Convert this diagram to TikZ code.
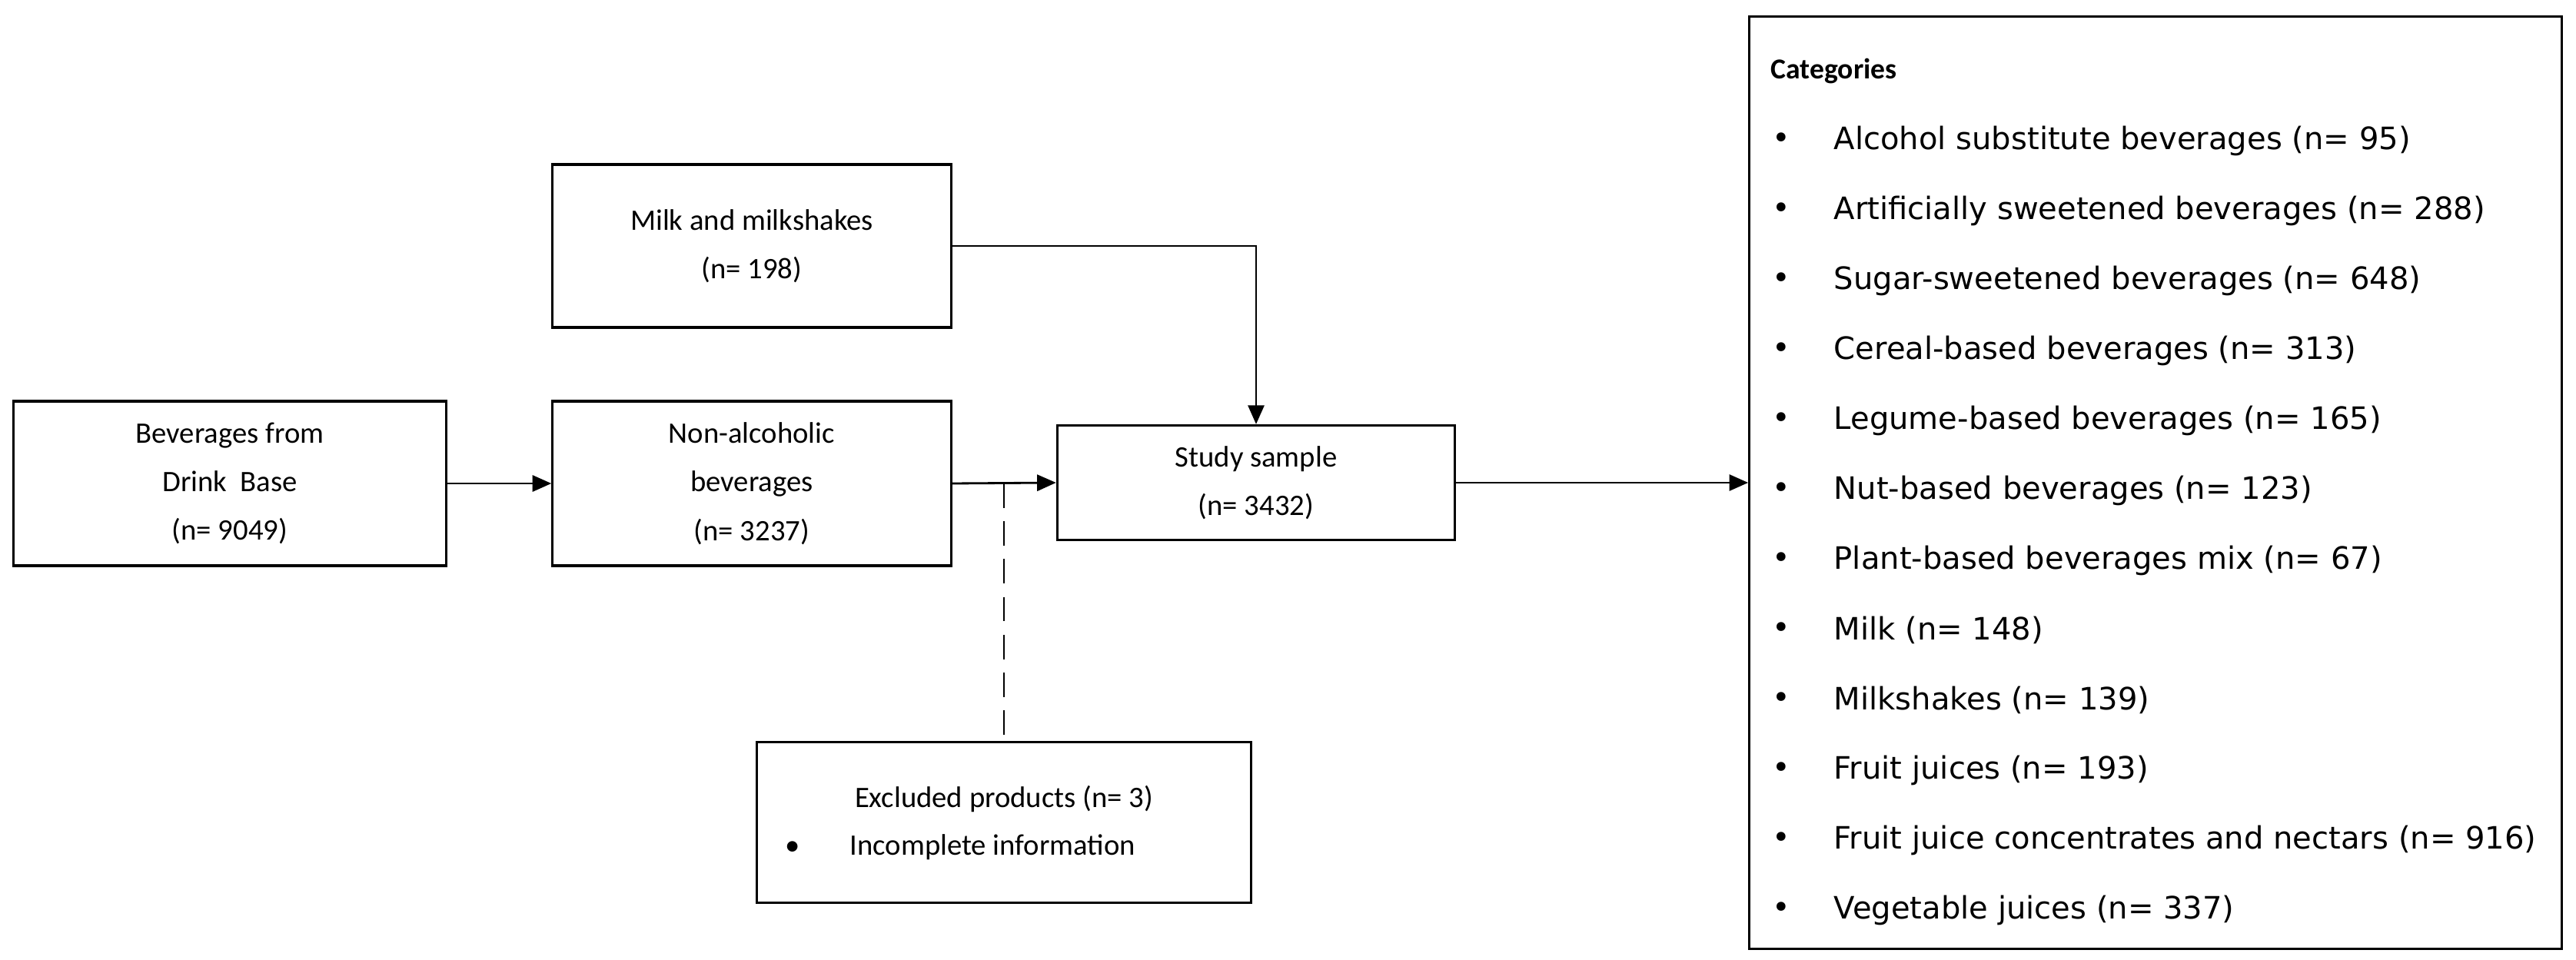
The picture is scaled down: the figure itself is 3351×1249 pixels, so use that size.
\documentclass[tikz,border=0pt]{standalone}
\usepackage{fontspec}
\setmainfont{Carlito}
\newfontfamily\listfont{DejaVu Sans}
\usetikzlibrary{arrows.meta}
\begin{document}
\begin{tikzpicture}[x=0.01cm,y=-0.01cm,
  box/.style={draw,line width=0.9pt,align=center,inner sep=0pt,font=\fontsize{11}{18}\selectfont},
  arr/.style={line width=0.8pt,-{Triangle[length=7pt,width=6pt]}},
  itm/.style={anchor=west,inner sep=0pt,font=\listfont\fontsize{11.4}{13}\selectfont}]
\useasboundingbox (0,0) rectangle (3351,1249);
\node[box,minimum width=5.62cm,minimum height=2.14cm] (bev) at (299,629) {Beverages from\\Drink\ \ Base\\(n= 9049)};
\node[box,minimum width=5.18cm,minimum height=2.14cm] (non) at (978,629) {Non-alcoholic\\beverages\\(n= 3237)};
\node[box,minimum width=5.18cm,minimum height=2.12cm] (milk) at (978,320) {Milk and milkshakes\\(n= 198)};
\node[box,minimum width=5.17cm,minimum height=1.49cm] (study) at (1634,628) {Study sample\\(n= 3432)};
\node[draw,line width=0.9pt,minimum width=6.43cm,minimum height=2.09cm] (exc) at (1306,1070) {};
\node[anchor=base,font=\fontsize{11}{18}\selectfont] (exct) at (1306,1050) {Excluded products (n= 3)};
\node[anchor=base,font=\fontsize{11}{18}\selectfont] (excb) at (1031,1112) {•};
\node[anchor=base west,inner sep=0pt,font=\fontsize{11}{18}\selectfont] (exci) at (1105,1112) {Incomplete information};
\node[draw,line width=0.9pt,minimum width=10.56cm,minimum height=12.12cm] (cat) at (2804,628) {};
\node[anchor=west,inner sep=0pt,font=\bfseries\fontsize{10.7}{12}\selectfont] (ctitle) at (2303,92) {Categories};
\foreach \t [count=\i] in {Alcohol substitute beverages (n= 95),Artificially sweetened beverages (n= 288),Sugar-sweetened beverages (n= 648),Cereal-based beverages (n= 313),Legume-based beverages (n= 165),Nut-based beverages (n= 123),Plant-based beverages mix (n= 67),Milk (n= 148),Milkshakes (n= 139),Fruit juices (n= 193),Fruit juice concentrates and nectars (n= 916),Vegetable juices (n= 337)}{
  \node[itm] (b\i) at (2305,{183+91*(\i-1)}) {•};
  \node[itm] (t\i) at (2385,{183+91*(\i-1)}) {\t};
}
\draw[arr] (bev.east) -- (non.west);
\draw[arr] (non.east) -- (study.west);
\draw[arr] (milk.east) -| (study.north);
\draw[arr] (study.east) -- (study.east -| cat.west);
\coordinate (dj) at (1306,629);
\draw[line width=0.8pt,dash pattern=on 9pt off 5pt] (dj) -- (exc.north);
\end{tikzpicture}
\end{document}
